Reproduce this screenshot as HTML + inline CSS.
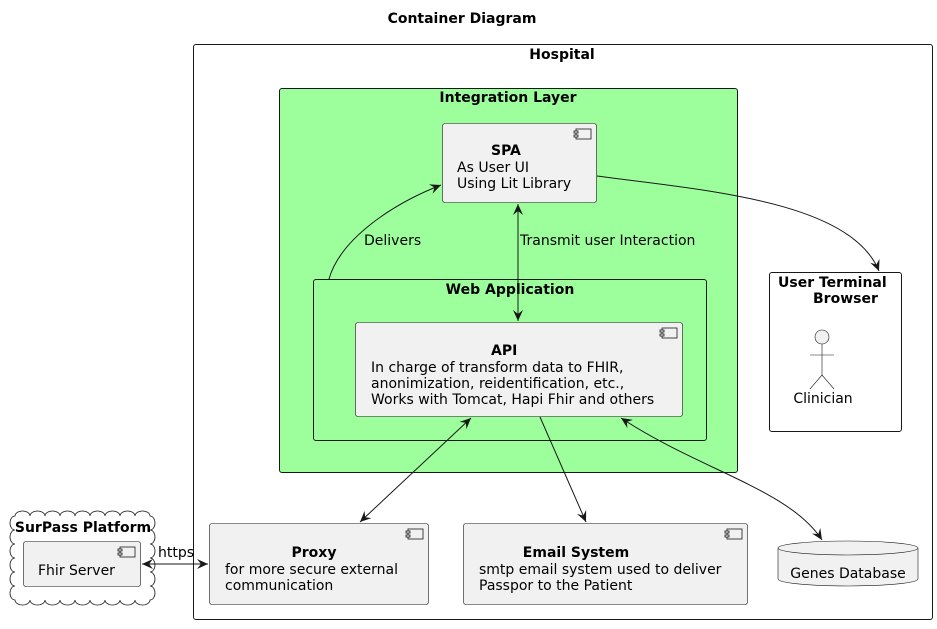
<!DOCTYPE html>
<html><head><meta charset="utf-8"><style>
html,body{margin:0;padding:0;background:#fff}
svg text{font-family:"DejaVu Sans","Liberation Sans",sans-serif;font-size:14px;fill:#000}
.b{font-weight:bold}
</style></head><body>
<svg width="937" height="624" viewBox="0 0 937 624" xmlns="http://www.w3.org/2000/svg">
<defs>
<marker id="a" viewBox="0 0 12 10" refX="11" refY="5" markerWidth="12" markerHeight="10" markerUnits="userSpaceOnUse" orient="auto-start-reverse">
<path d="M0,0 L11,5 L0,10 L4,5 Z" fill="#181818"/></marker>
<g id="ci"><rect x="0" y="0" width="15" height="10" fill="none" stroke="#181818" stroke-width="0.8"/><rect x="-2" y="2" width="4" height="2" fill="#f1f1f1" stroke="#181818" stroke-width="0.8"/><rect x="-2" y="6" width="4" height="2" fill="#f1f1f1" stroke="#181818" stroke-width="0.8"/></g>
</defs>
<text x="462" y="23" text-anchor="middle" class="b">Container Diagram</text>
<rect x="193.5" y="44.5" width="739" height="575" rx="2.5" fill="#fff" stroke="#181818"/>
<text x="562" y="59" text-anchor="middle" class="b">Hospital</text>
<rect x="279.5" y="88.5" width="458" height="384" rx="2.5" fill="#9cff9c" stroke="#181818"/>
<text x="508" y="102" text-anchor="middle" class="b">Integration Layer</text>
<rect x="313.5" y="279.5" width="393" height="161" rx="2.5" fill="#9cff9c" stroke="#181818"/>
<text x="510" y="294" text-anchor="middle" class="b">Web Application</text>
<rect x="442.5" y="123.5" width="154" height="79" rx="2.5" fill="#f1f1f1" stroke="#181818" stroke-width="0.6"/>
<use href="#ci" x="576" y="129"/>
<text x="491" y="155" class="b">SPA</text>
<text x="457" y="172">As User UI</text>
<text x="457" y="188">Using Lit Library</text>
<rect x="355.5" y="322.5" width="327" height="94" rx="2.5" fill="#f1f1f1" stroke="#181818" stroke-width="0.6"/>
<use href="#ci" x="662" y="328"/>
<text x="491" y="355" class="b">API</text>
<text x="371" y="372">In charge of transform data to FHIR,</text>
<text x="371" y="388">anonimization, reidentification, etc.,</text>
<text x="371" y="404">Works with Tomcat, Hapi Fhir and others</text>
<rect x="769.5" y="272.5" width="132" height="159" rx="2.5" fill="#fff" stroke="#181818"/>
<text x="778" y="287" class="b">User Terminal</text>
<text x="813" y="303" class="b">Browser</text>
<circle cx="822" cy="337" r="7" fill="#f1f1f1" stroke="#181818" stroke-width="0.6"/>
<path d="M822,344 V375 M810,355 H834 M822,375 L810,389 M822,375 L834,389" stroke="#181818" stroke-width="0.6" fill="none"/>
<text x="823" y="403" text-anchor="middle">Clinician</text>
<rect x="209.5" y="523.5" width="219" height="81" rx="2.5" fill="#f1f1f1" stroke="#181818" stroke-width="0.6"/>
<use href="#ci" x="408" y="529"/>
<text x="314" y="557" text-anchor="middle" class="b">Proxy</text>
<text x="225" y="574">for more secure external</text>
<text x="225" y="590">communication</text>
<rect x="463.5" y="523.5" width="284" height="81" rx="2.5" fill="#f1f1f1" stroke="#181818" stroke-width="0.6"/>
<use href="#ci" x="727" y="529"/>
<text x="576" y="557" text-anchor="middle" class="b">Email System</text>
<text x="479" y="574">smtp email system used to deliver</text>
<text x="479" y="590">Passpor to the Patient</text>
<path d="M778,548 v31 a70,7 0 0 0 140,0 v-31 a70,7 0 0 0 -140,0 a70,7 0 0 0 140,0" fill="#f1f1f1" stroke="#181818" stroke-width="0.6"/>
<text x="848" y="578" text-anchor="middle">Genes Database</text>
<path d="M15,516 a7.5,5 0 0 1 15,0 a7.5,5 0 0 1 15,0 a7.5,5 0 0 1 15,0 a7.5,5 0 0 1 15,0 a7.5,5 0 0 1 15,0 a7.5,5 0 0 1 15,0 a7.5,5 0 0 1 15,0 a7.5,5 0 0 1 15,0 a7.5,5 0 0 1 15,0 a5,7 0 0 1 0,14 a5,7 0 0 1 0,14 a5,7 0 0 1 0,14 a5,7 0 0 1 0,14 a5,7 0 0 1 0,14 a5,7 0 0 1 0,14 a7.5,5 0 0 1 -15,0 a7.5,5 0 0 1 -15,0 a7.5,5 0 0 1 -15,0 a7.5,5 0 0 1 -15,0 a7.5,5 0 0 1 -15,0 a7.5,5 0 0 1 -15,0 a7.5,5 0 0 1 -15,0 a7.5,5 0 0 1 -15,0 a7.5,5 0 0 1 -15,0 a5,7 0 0 1 0,-14 a5,7 0 0 1 0,-14 a5,7 0 0 1 0,-14 a5,7 0 0 1 0,-14 a5,7 0 0 1 0,-14 a5,7 0 0 1 0,-14 Z" fill="#fff" stroke="#181818" stroke-width="0.8"/>
<text x="83" y="532" text-anchor="middle" class="b">SurPass Platform</text>
<rect x="23.5" y="541.5" width="117" height="45" rx="2.5" fill="#f1f1f1" stroke="#181818" stroke-width="0.6"/>
<use href="#ci" x="120" y="547"/>
<text x="38" y="575">Fhir Server</text>
<g stroke="#181818" fill="none" stroke-width="1">
<path d="M329,279 C340,240 390,205 441,185" marker-end="url(#a)"/>
<path d="M518,204 V321" marker-start="url(#a)" marker-end="url(#a)"/>
<path d="M597,176 C700,190 850,200 879,271" marker-end="url(#a)"/>
<path d="M471,418 L360,522" marker-start="url(#a)" marker-end="url(#a)"/>
<path d="M540,417 L586,522" marker-end="url(#a)"/>
<path d="M621,418 C700,470 790,490 822,540" marker-start="url(#a)" marker-end="url(#a)"/>
<path d="M142,564 H208" marker-start="url(#a)" marker-end="url(#a)"/>
</g>
<text x="364" y="245">Delivers</text>
<text x="520" y="245">Transmit user Interaction</text>
<text x="158" y="557">https</text>
</svg>
</body></html>
